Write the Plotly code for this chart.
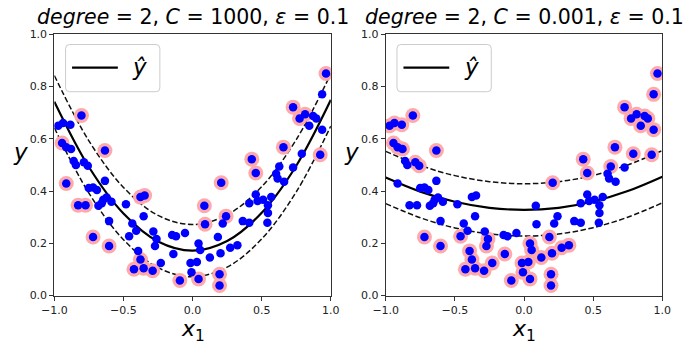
import plotly.graph_objects as go

# ---- data ----
x_vals = [-0.804, -0.972, -0.937, -0.884, -0.944, -0.914, -0.879, -0.634, -0.860, -0.844,
          -0.786, -0.758, -0.914, -0.634, -0.751, -0.720, -0.692, -0.828, -0.774, -0.681,
          -0.646, -0.622, -0.587, -0.657, -0.482, -0.377, -0.347, -0.354, -0.604, -0.436,
          -0.408, -0.459, -0.720, -0.604, -0.394, -0.377, -0.424, -0.354, 0.207, 0.085,
          0.242, 0.090, 0.218, -0.284, -0.261, -0.272, -0.148, -0.120, -0.055, -0.139,
          0.043, 0.055, 0.183, 0.272, 0.324, 0.125, 0.202, -0.230, -0.289, -0.015,
          0.031, -0.008, 0.043, -0.092, 0.195, 0.195, 0.965, 0.937, 0.727, 0.774,
          0.814, 0.872, 0.895, 0.844, 0.937, 0.657, 0.428, 0.923, 0.790, 0.457,
          0.627, 0.727, 0.604, 0.615, 0.662, 0.457, 0.410, 0.510, 0.569, 0.545,
          0.545, 0.541, 0.363, 0.410, 0.470]
y_vals = [0.689, 0.650, 0.660, 0.654, 0.584, 0.568, 0.561, 0.555, 0.515, 0.500,
          0.510, 0.497, 0.429, 0.439, 0.412, 0.414, 0.404, 0.346, 0.346, 0.344,
          0.367, 0.375, 0.359, 0.353, 0.350, 0.377, 0.383, 0.304, 0.285, 0.276,
          0.248, 0.227, 0.224, 0.190, 0.171, 0.138, 0.101, 0.105, 0.432, 0.344,
          0.304, 0.273, 0.276, 0.245, 0.217, 0.190, 0.232, 0.227, 0.240, 0.159,
          0.199, 0.175, 0.224, 0.183, 0.193, 0.146, 0.162, 0.125, 0.095, 0.125,
          0.129, 0.089, 0.064, 0.058, 0.082, 0.039, 0.850, 0.770, 0.721, 0.678,
          0.694, 0.687, 0.678, 0.650, 0.635, 0.568, 0.522, 0.539, 0.543, 0.469,
          0.494, 0.490, 0.466, 0.448, 0.436, 0.387, 0.353, 0.367, 0.377, 0.346,
          0.316, 0.279, 0.285, 0.279, 0.362]

# support vectors (1-based point numbers) read from the pink halos
sv_left = [1, 5, 8, 13, 18, 19, 26, 27, 33, 34, 36, 37, 38, 39, 40, 41, 42,
           59, 63, 64, 65, 66, 67, 69, 70, 71, 76, 77, 78, 80]
sv_right = [1, 2, 3, 4, 5, 6, 7, 8, 11, 12, 32, 33, 34, 35, 36, 37, 38, 39, 45, 46,
            50, 51, 52, 53, 54, 55, 56, 57, 58, 59, 60, 61, 62, 63, 64, 65, 66,
            67, 68, 69, 70, 71, 72, 73, 74, 75, 76, 77, 78, 79, 80, 81]

x_curve = [-1.0, -0.75, -0.5, -0.25, 0.0, 0.25, 0.5, 0.75, 1.0]
yhat_left = [0.742, 0.492, 0.314, 0.207, 0.172, 0.209, 0.317, 0.497, 0.749]
yhat_right = [0.452, 0.398, 0.359, 0.336, 0.328, 0.336, 0.360, 0.400, 0.455]
epsilon = 0.1

titles = ["<i>degree</i> = 2, <i>C</i> = 1000, <i>ε</i> = 0.1",
          "<i>degree</i> = 2, <i>C</i> = 0.001, <i>ε</i> = 0.1"]
legend_label = "<i>ŷ</i>"
x_ticks = [-1.0, -0.5, 0.0, 0.5, 1.0]
y_ticks = [0.0, 0.2, 0.4, 0.6, 0.8, 1.0]

W, H = 691, 353
FONT = "DejaVu Sans"

fig = go.Figure()
panels = [("x", "y", yhat_left, sv_left),
          ("x2", "y2", yhat_right, sv_right)]
for xa, ya, yhat, sv in panels:
    fig.add_trace(go.Scatter(x=x_curve, y=yhat, mode="lines", xaxis=xa, yaxis=ya,
                             line=dict(color="black", width=2.2, shape="spline"),
                             name="ŷ", showlegend=False))
    for sgn in (1, -1):
        fig.add_trace(go.Scatter(x=x_curve, y=[v + sgn * epsilon for v in yhat],
                                 mode="lines", xaxis=xa, yaxis=ya, showlegend=False,
                                 line=dict(color="#111", width=1.5, dash="5.5px,2.5px",
                                           shape="spline")))
    fig.add_trace(go.Scatter(x=[x_vals[i - 1] for i in sv], y=[y_vals[i - 1] for i in sv],
                             mode="markers", xaxis=xa, yaxis=ya, showlegend=False,
                             marker=dict(size=15, color="#FFAAAA", line=dict(width=0))))
    fig.add_trace(go.Scatter(x=x_vals, y=y_vals, mode="markers", xaxis=xa, yaxis=ya,
                             showlegend=False,
                             marker=dict(size=8.5, color="blue", line=dict(width=0))))

axis_common = dict(showline=True, mirror=True, linecolor="#333", linewidth=1,
                   ticks="outside", ticklen=4, tickcolor="#333", tickwidth=1,
                   showgrid=False, zeroline=False,
                   tickfont=dict(family=FONT, size=11, color="#222"), tickformat=".1f")

L0, L1 = 42.7, 328.3
R0, R1 = 385.0, 670.7
T, B = 29.3, 300.7
ydom = [1 - B / H, 1 - T / H]

fig.update_layout(
    width=W, height=H, autosize=False,
    margin=dict(l=0, r=0, t=0, b=0),
    paper_bgcolor="white", plot_bgcolor="white", showlegend=False,
    xaxis=dict(domain=[L0 / W, L1 / W], range=[-1, 1], tickvals=x_ticks, anchor="y", **axis_common),
    yaxis=dict(domain=ydom, range=[0, 1], tickvals=y_ticks, anchor="x", **axis_common),
    xaxis2=dict(domain=[R0 / W, R1 / W], range=[-1, 1], tickvals=x_ticks, anchor="y2", **axis_common),
    yaxis2=dict(domain=ydom, range=[0, 1], tickvals=y_ticks, anchor="x2", **axis_common),
)


def px(v):
    return v / W


def py(v):
    return 1 - v / H


shapes = []
ann = []
for (a, b), title in zip([(L0, L1), (R0, R1)], titles):
    cx = (a + b) / 2
    off = a - L0
    # legend box (rounded)
    x0, x1, y0, y1 = px(54.3 + off), px(151.7 + off), py(89), py(40)
    rx, ry = px(4), 4 / H
    path = (f"M {x0+rx},{y1} L {x1-rx},{y1} Q {x1},{y1} {x1},{y1-ry} "
            f"L {x1},{y0+ry} Q {x1},{y0} {x1-rx},{y0} L {x0+rx},{y0} "
            f"Q {x0},{y0} {x0},{y0+ry} L {x0},{y1-ry} Q {x0},{y1} {x0+rx},{y1} Z")
    shapes.append(dict(type="path", path=path, xref="paper", yref="paper",
                       line=dict(color="#cccccc", width=1), fillcolor="rgba(255,255,255,0.85)",
                       layer="above"))
    shapes.append(dict(type="line", x0=px(61 + off), x1=px(108.3 + off), y0=py(64), y1=py(64),
                       xref="paper", yref="paper", line=dict(color="black", width=2.2),
                       layer="above"))
    ann.append(dict(text=legend_label, x=px(131 + off), y=py(63), xref="paper", yref="paper",
                    xanchor="center", yanchor="middle", showarrow=False,
                    font=dict(family=FONT, size=23, color="black")))
    ann.append(dict(text=title, x=cx / W, y=py(11.5), xref="paper", yref="paper",
                    xanchor="center", yanchor="middle", showarrow=False,
                    font=dict(family=FONT, size=20.5, color="black")))
    ann.append(dict(text="<i>x</i><sub>1</sub>", x=cx / W, y=py(337), xref="paper",
                    yref="paper", xanchor="center", yanchor="middle", showarrow=False,
                    font=dict(family=FONT, size=22, color="black")))
    ann.append(dict(text="<i>y</i>", x=px(a - 35), y=py(152), xref="paper",
                    yref="paper", xanchor="center", yanchor="middle", showarrow=False,
                    font=dict(family=FONT, size=23, color="black")))
fig.update_layout(annotations=ann, shapes=shapes)

fig.write_html("out.html")
